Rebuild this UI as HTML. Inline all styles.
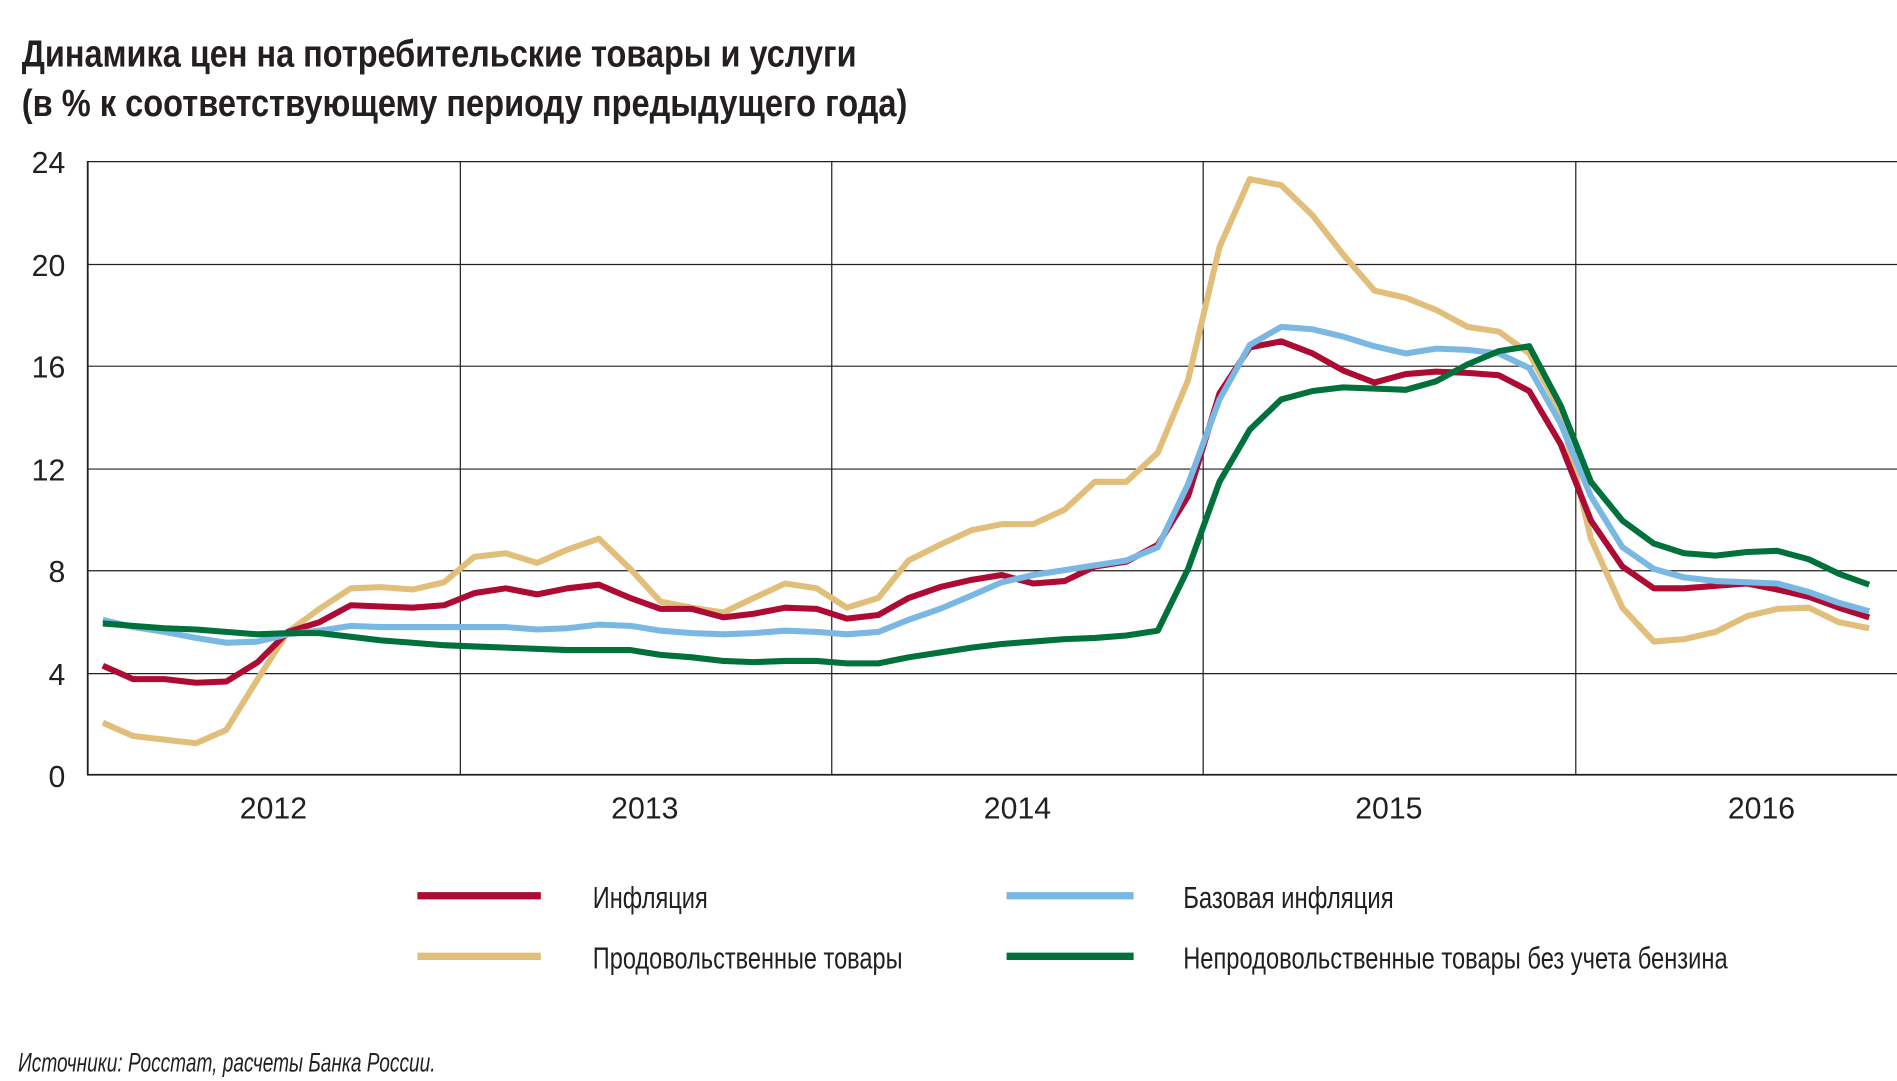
<!DOCTYPE html>
<html><head><meta charset="utf-8"><style>
html,body{margin:0;padding:0;background:#fff;}
svg{display:block;}
text{font-family:"Liberation Sans Narrow","Liberation Sans","DejaVu Sans",sans-serif;fill:#231f20;}
</style></head><body>
<svg width="1897" height="1081" viewBox="0 0 1568 893" preserveAspectRatio="none" xmlns="http://www.w3.org/2000/svg">
<rect width="1568" height="893" fill="#fff"/>
<text x="18" y="55" font-size="31" font-weight="bold" textLength="690" lengthAdjust="spacingAndGlyphs">Динамика цен на потребительские товары и услуги</text>
<text x="18" y="96" font-size="31" font-weight="bold" textLength="732" lengthAdjust="spacingAndGlyphs">(в % к соответствующему периоду предыдущего года)</text>
<g stroke="#231f20" stroke-width="1">
<line x1="72" y1="133.5" x2="1568" y2="133.5"/>
<line x1="72" y1="218.5" x2="1568" y2="218.5"/>
<line x1="72" y1="302.5" x2="1568" y2="302.5"/>
<line x1="72" y1="387.5" x2="1568" y2="387.5"/>
<line x1="72" y1="471.5" x2="1568" y2="471.5"/>
<line x1="72" y1="556.5" x2="1568" y2="556.5"/>
<line x1="380.5" y1="133" x2="380.5" y2="640"/>
<line x1="687.5" y1="133" x2="687.5" y2="640"/>
<line x1="994.5" y1="133" x2="994.5" y2="640"/>
<line x1="1302.5" y1="133" x2="1302.5" y2="640"/>
</g>
<line x1="72" y1="640" x2="1568" y2="640" stroke="#231f20" stroke-width="1.5"/>
<line x1="72.5" y1="133" x2="72.5" y2="640" stroke="#231f20" stroke-width="1.5"/>
<g font-size="25" text-anchor="end">
<text x="54" y="143">24</text><text x="54" y="228">20</text><text x="54" y="312">16</text>
<text x="54" y="397">12</text><text x="54" y="481">8</text><text x="54" y="566">4</text><text x="54" y="650">0</text>
</g>
<g font-size="25" text-anchor="middle">
<text x="226" y="676">2012</text><text x="533" y="676">2013</text><text x="841" y="676">2014</text>
<text x="1148" y="676">2015</text><text x="1456" y="676">2016</text>
</g>
<g fill="none" stroke-width="5" stroke-linejoin="round" stroke-linecap="butt">
<polyline stroke="#e1bf7b" points="85,597 110,608 136,611 162,614 187,603 213,561 238,522 264,503 290,486 315,485 341,487 367,481 392,460 418,457 444,465 469,454 495,445 521,470 546,497 572,502 598,506 623,494 649,482 675,486 700,502 726,494 751,463 777,450 803,438 828,433 854,433 880,421 905,398 931,398 957,374 982,314 1008,204 1033,148 1059,153 1085,178 1110,210 1136,240 1162,246 1187,256 1213,270 1239,274 1264,292 1290,340 1315,445 1341,502 1367,530 1392,528 1418,522 1444,509 1469,503 1495,502 1520,514 1545,519"/>
<polyline stroke="#ad0a34" points="85,550 110,561 136,561 162,564 187,563 213,547 238,522 264,514 290,500 315,501 341,502 367,500 392,490 418,486 444,491 469,486 495,483 521,494 546,503 572,503 598,510 623,507 649,502 675,503 700,511 726,508 751,494 777,485 803,479 828,475 854,482 880,480 905,468 931,464 957,450 982,410 1008,325 1033,287 1059,282 1085,292 1110,306 1136,316 1162,309 1187,307 1213,308 1239,310 1264,323 1290,367 1315,430 1341,468 1367,486 1392,486 1418,484 1444,482 1469,487 1495,493 1520,502 1545,510"/>
<polyline stroke="#7ab8e4" points="85,512 110,518 136,522 162,527 187,531 213,530 238,524 264,521 290,517 315,518 341,518 367,518 392,518 418,518 444,520 469,519 495,516 521,517 546,521 572,523 598,524 623,523 649,521 675,522 700,524 726,522 751,512 777,503 803,492 828,481 854,475 880,471 905,467 931,463 957,452 982,400 1008,330 1033,285 1059,270 1085,272 1110,278 1136,286 1162,292 1187,288 1213,289 1239,292 1264,304 1290,350 1315,410 1341,452 1367,470 1392,477 1418,480 1444,481 1469,482 1495,489 1520,498 1545,505"/>
<polyline stroke="#00713a" points="85,515 110,517 136,519 162,520 187,522 213,524 238,523 264,523 290,526 315,529 341,531 367,533 392,534 418,535 444,536 469,537 495,537 521,537 546,541 572,543 598,546 623,547 649,546 675,546 700,548 726,548 751,543 777,539 803,535 828,532 854,530 880,528 905,527 931,525 957,521 982,470 1008,398 1033,355 1059,330 1085,323 1110,320 1136,321 1162,322 1187,315 1213,301 1239,290 1264,286 1290,335 1315,398 1341,430 1367,449 1392,457 1418,459 1444,456 1469,455 1495,462 1520,474 1545,483"/>
</g>
<g stroke-width="6">
<line x1="345" y1="740" x2="447" y2="740" stroke="#ad0a34"/>
<line x1="832" y1="740" x2="937" y2="740" stroke="#7ab8e4"/>
<line x1="345" y1="790" x2="447" y2="790" stroke="#e1bf7b"/>
<line x1="832" y1="790" x2="937" y2="790" stroke="#00713a"/>
</g>
<g font-size="25">
<text x="490" y="750" textLength="95" lengthAdjust="spacingAndGlyphs">Инфляция</text>
<text x="978" y="750" textLength="174" lengthAdjust="spacingAndGlyphs">Базовая инфляция</text>
<text x="490" y="800" textLength="256" lengthAdjust="spacingAndGlyphs">Продовольственные товары</text>
<text x="978" y="800" textLength="450" lengthAdjust="spacingAndGlyphs">Непродовольственные товары без учета бензина</text>
</g>
<text x="15" y="885" font-size="22" font-style="italic" textLength="345" lengthAdjust="spacingAndGlyphs">Источники: Росстат, расчеты Банка России.</text>
</svg>
</body></html>
